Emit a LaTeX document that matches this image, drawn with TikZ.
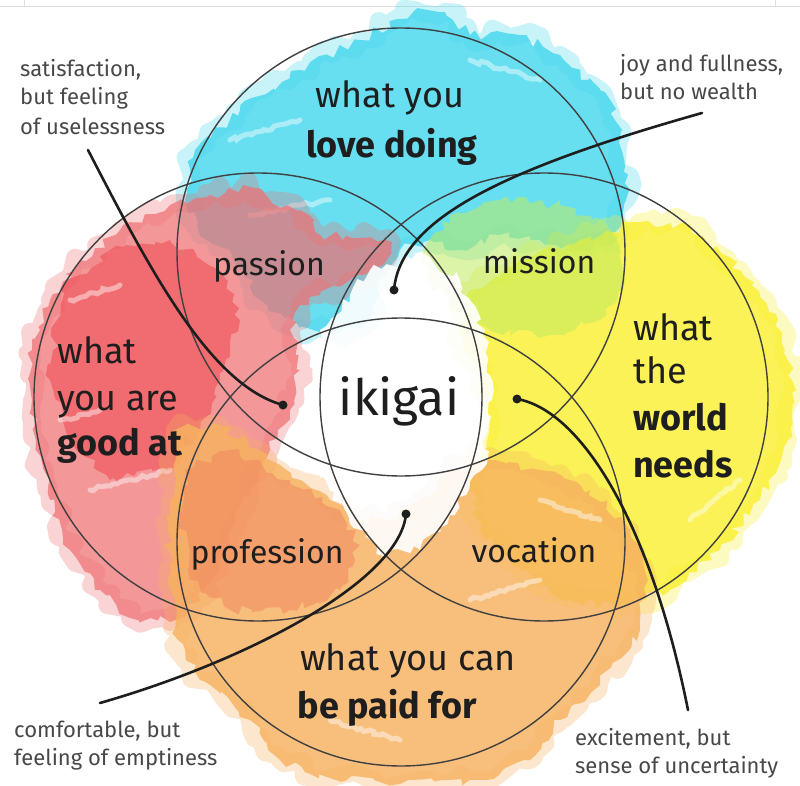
\documentclass[tikz,border=0pt]{standalone}
\usepackage{fontspec}
\setmainfont{Fira Sans}
\usetikzlibrary{decorations.pathmorphing}

\definecolor{cyanw}{RGB}{70,216,238}
\definecolor{redw}{RGB}{240,112,114}
\definecolor{redcore}{RGB}{240,66,72}
\definecolor{yelw}{RGB}{250,240,50}
\definecolor{greenw}{RGB}{190,235,95}
\definecolor{orw}{RGB}{247,178,96}
\definecolor{corw}{RGB}{240,135,95}
\definecolor{ink}{RGB}{30,30,30}
\definecolor{note}{RGB}{72,72,72}

\tikzset{
  wash/.style={decorate, decoration={random steps, segment length=7pt, amplitude=5pt}, fill=#1, draw=none},
  halo/.style={decorate, decoration={random steps, segment length=9pt, amplitude=8pt}, draw=#1, line width=18pt, line join=round, draw opacity=0.3, fill=none},
  streak/.style={decorate, decoration={random steps, segment length=4pt, amplitude=2pt}, draw=white, line width=5pt, draw opacity=0.45, line cap=round},
  ring/.style={draw=ink!85, line width=1.4pt},
  lead/.style={draw=ink, line width=2.6pt, line cap=round},
  dotmark/.style={fill=ink},
  big/.style={font=\fontsize{36}{40}\selectfont, text=ink, inner sep=0pt},
  bigb/.style={font=\fontsize{36}{40}\selectfont\bfseries, text=ink, inner sep=0pt},
  mid/.style={font=\fontsize{32}{36}\selectfont, text=ink, inner sep=0pt},
  huge/.style={font=\fontsize{50}{54}\selectfont, text=ink, inner sep=0pt},
  small/.style={font=\fontsize{22}{26}\selectfont, text=note, inner sep=0pt},
}

\newcommand{\cyanpoly}[1]{\path[#1] (185,200) -- (195,150) -- (240,110) -- (300,70) -- (360,40) -- (415,10) -- (445,12) -- (470,35) -- (520,35) -- (560,55) -- (600,90) -- (622,130) -- (626,200) -- (612,245) -- (580,250) -- (540,240) -- (500,235) -- (460,250) -- (430,240) -- (400,250) -- (380,280) -- (370,320) -- (340,332) -- (300,328) -- (260,300) -- (230,250) -- (200,235) -- cycle;}
\newcommand{\redpoly}[1]{\path[#1] (32,350) -- (50,300) -- (80,260) -- (120,230) -- (170,205) -- (210,195) -- (250,187) -- (270,200) -- (300,210) -- (320,235) -- (360,238) -- (392,242) -- (383,265) -- (350,280) -- (320,295) -- (300,305) -- (290,330) -- (300,370) -- (290,410) -- (270,450) -- (250,490) -- (230,530) -- (220,570) -- (200,600) -- (170,622) -- (130,618) -- (100,590) -- (70,550) -- (50,500) -- (36,440) -- (32,400) -- cycle;}
\newcommand{\yelpoly}[1]{\path[#1] (460,330) -- (470,290) -- (520,260) -- (580,240) -- (640,222) -- (690,225) -- (740,270) -- (778,320) -- (792,380) -- (788,440) -- (760,500) -- (720,550) -- (670,590) -- (620,608) -- (570,600) -- (520,570) -- (480,530) -- (470,480) -- (490,430) -- (480,380) -- cycle;}
\newcommand{\orpoly}[1]{\path[#1] (175,430) -- (220,425) -- (260,450) -- (300,480) -- (330,500) -- (360,520) -- (390,520) -- (420,500) -- (450,470) -- (490,460) -- (540,470) -- (590,490) -- (630,530) -- (648,580) -- (640,630) -- (600,680) -- (560,720) -- (530,760) -- (480,780) -- (400,784) -- (330,778) -- (280,760) -- (250,720) -- (200,680) -- (178,640) -- (168,580) -- (170,500) -- cycle;}

\begin{document}
\begin{tikzpicture}[x=1pt,y=-1pt]
\pgfmathsetseed{7}
\useasboundingbox (0,0) rectangle (800,786);
\fill[white] (0,0) rectangle (800,786);
\draw[gray!25, line width=0.8pt] (0,6) -- (800,6);
\draw[gray!25, line width=0.8pt] (24,0) -- (24,6);
\draw[gray!25, line width=0.8pt] (775,0) -- (775,6);

% --- watercolor washes ---
\cyanpoly{halo=cyanw}
\cyanpoly{wash=cyanw, fill opacity=0.82}
\path[streak] (230,140) -- (300,120);
\path[streak] (470,60) -- (540,80);
\path[streak] (250,215) -- (330,200);

\redpoly{halo=redw}
\redpoly{wash=redw, fill opacity=0.72}
\path[wash=redcore, fill opacity=0.5] (60,290) -- (110,250) -- (170,240) -- (220,270) -- (240,320) -- (220,380) -- (200,430) -- (170,470) -- (110,480) -- (70,440) -- (50,380) -- cycle;
\path[streak] (70,300) -- (120,285);
\path[streak] (90,490) -- (170,470);
\path[streak] (60,420) -- (100,410);

\yelpoly{halo=yelw}
\yelpoly{wash=yelw, fill opacity=0.82}
\path[streak] (690,520) -- (740,480);

\path[wash=greenw, fill opacity=0.55] (420,260) -- (450,215) -- (500,200) -- (560,205) -- (610,230) -- (625,280) -- (600,320) -- (550,335) -- (490,330) -- (450,310) -- cycle;

\orpoly{halo=orw}
\orpoly{wash=orw, fill opacity=0.82}
\path[wash=corw, fill opacity=0.55] (185,470) -- (230,450) -- (290,480) -- (340,510) -- (360,545) -- (340,590) -- (290,610) -- (230,610) -- (190,580) -- (180,520) -- cycle;
\path[streak] (470,600) -- (540,580);
\path[streak] (330,720) -- (400,740);
\path[streak] (540,500) -- (600,520);

\path[wash=white, fill opacity=0.9] (320,330) -- (350,295) -- (370,270) -- (420,255) -- (460,280) -- (485,330) -- (492,400) -- (482,470) -- (450,515) -- (420,550) -- (380,555) -- (345,510) -- (318,470) -- (310,400) -- cycle;

% --- circles ---
\node[ring, circle, minimum size=448pt, inner sep=0pt] (ctop) at (401,252) {};
\node[ring, circle, minimum size=448pt, inner sep=0pt] (cleft) at (258,397) {};
\node[ring, circle, minimum size=448pt, inner sep=0pt] (cright) at (544,397) {};
\node[ring, circle, minimum size=448pt, inner sep=0pt] (cbot) at (401,542) {};

% --- labels ---
\node[big, anchor=base] (t1) at (390,108) {what you};
\node[bigb, anchor=base] (t2) at (392,158) {love doing};
\node[mid, anchor=base] (pas) at (269,276) {passion};
\node[mid, anchor=base] (mis) at (539,273) {mission};
\node[huge, anchor=base] (iki) at (399,415) {ikigai};
\node[big, anchor=base west] (l1) at (57,363) {what};
\node[big, anchor=base west] (l2) at (57,410) {you are};
\node[bigb, anchor=base west] (l3) at (57,455) {good at};
\node[big, anchor=base west] (r1) at (633,340) {what};
\node[big, anchor=base west] (r2) at (633,383) {the};
\node[bigb, anchor=base west] (r3) at (633,430) {world};
\node[bigb, anchor=base west] (r4) at (633,477) {needs};
\node[mid, anchor=base] (pro) at (267,563) {profession};
\node[mid, anchor=base] (voc) at (534,562) {vocation};
\node[big, anchor=base] (b1) at (408,670) {what you can};
\node[bigb, anchor=base] (b2) at (387,718) {be paid for};

% --- notes ---
\node[small, anchor=base west] (n1a) at (20,77) {satisfaction,};
\node[small, anchor=base west] (n1b) at (20,105) {but feeling};
\node[small, anchor=base west] (n1c) at (20,135) {of uselessness};
\node[small, anchor=base west] (n2a) at (620,72) {joy and fullness,};
\node[small, anchor=base west] (n2b) at (620,100) {but no wealth};
\node[small, anchor=base west] (n3a) at (14,737) {comfortable, but};
\node[small, anchor=base west] (n3b) at (14,765) {feeling of emptiness};
\node[small, anchor=base west] (n4a) at (575,745) {excitement, but};
\node[small, anchor=base west] (n4b) at (575,773) {sense of uncertainty};

% --- connectors ---
\coordinate (s1) at (88,150);
\coordinate (d1) at (283,405);
\coordinate (s2) at (702,113);
\coordinate (d2) at (394,290);
\coordinate (s3) at (688,710);
\coordinate (d3) at (517,399);
\coordinate (s4) at (100,703);
\coordinate (d4) at (406,514);

\draw[lead] (s1) .. controls (150,270) and (210,385) .. (d1);
\draw[lead] (s2) .. controls (500,170) and (400,220) .. (d2);
\draw[lead] (d3) .. controls (580,410) and (650,520) .. (s3);
\draw[lead] (d4) .. controls (400,580) and (250,660) .. (s4);

\fill[dotmark] (d1) circle (4.5);
\fill[dotmark] (d2) circle (4.5);
\fill[dotmark] (d3) circle (4.5);
\fill[dotmark] (d4) circle (4.5);
\end{tikzpicture}
\end{document}
